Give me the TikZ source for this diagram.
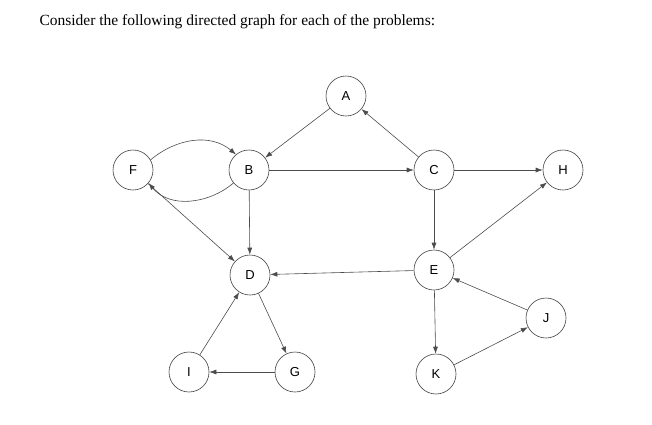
\documentclass[tikz,border=0pt]{standalone}
\usepackage{fontspec}
\setmainfont{Liberation Serif}
\newfontfamily\nodefont{Liberation Sans}
\usetikzlibrary{arrows.meta}
\begin{document}
\begin{tikzpicture}[x=1pt,y=-1pt,
  vtx/.style={circle,draw=black!75,line width=0.6pt,minimum size=40pt,inner sep=0pt,font=\nodefont\fontsize{13}{13}\selectfont},
  arr/.style={-{Latex[length=7pt,width=5pt]},draw=black!70,line width=0.6pt}]
\useasboundingbox (0,0) rectangle (652,424);
\node[anchor=west,font=\fontsize{15.5}{15.5}\selectfont] (title) at (36,22) {Consider the following directed graph for each of the problems:};
\node[vtx] (A) at (346,96) {A};
\node[vtx] (B) at (249,170) {B};
\node[vtx] (C) at (434,170) {C};
\node[vtx] (H) at (563,170) {H};
\node[vtx] (F) at (133,170) {F};
\node[vtx] (D) at (250,275) {D};
\node[vtx] (E) at (434,270) {E};
\node[vtx] (J) at (546,318) {J};
\node[vtx] (I) at (189,372) {I};
\node[vtx] (G) at (295,372) {G};
\node[vtx] (K) at (436,374) {K};
\draw[arr] (C) -- (A);
\draw[arr] (A) -- (B);
\draw[arr] (B) -- (C);
\draw[arr] (C) -- (H);
\draw[arr] (C) -- (E);
\draw[arr] (E) -- (H);
\draw[arr] (E) -- (D);
\draw[arr] (B) -- (D);
\draw[arr] (F) -- (D);
\draw[arr] (F.30) to[out=40,in=140] (B.130);
\draw[arr] (B.220) to[out=-140,in=-50] (F.-40);
\draw[arr] (D) -- (G);
\draw[arr] (G) -- (I);
\draw[arr] (I) -- (D);
\draw[arr] (K) -- (J);
\draw[arr] (J) -- (E);
\draw[arr] (E) -- (K);
\end{tikzpicture}
\end{document}
